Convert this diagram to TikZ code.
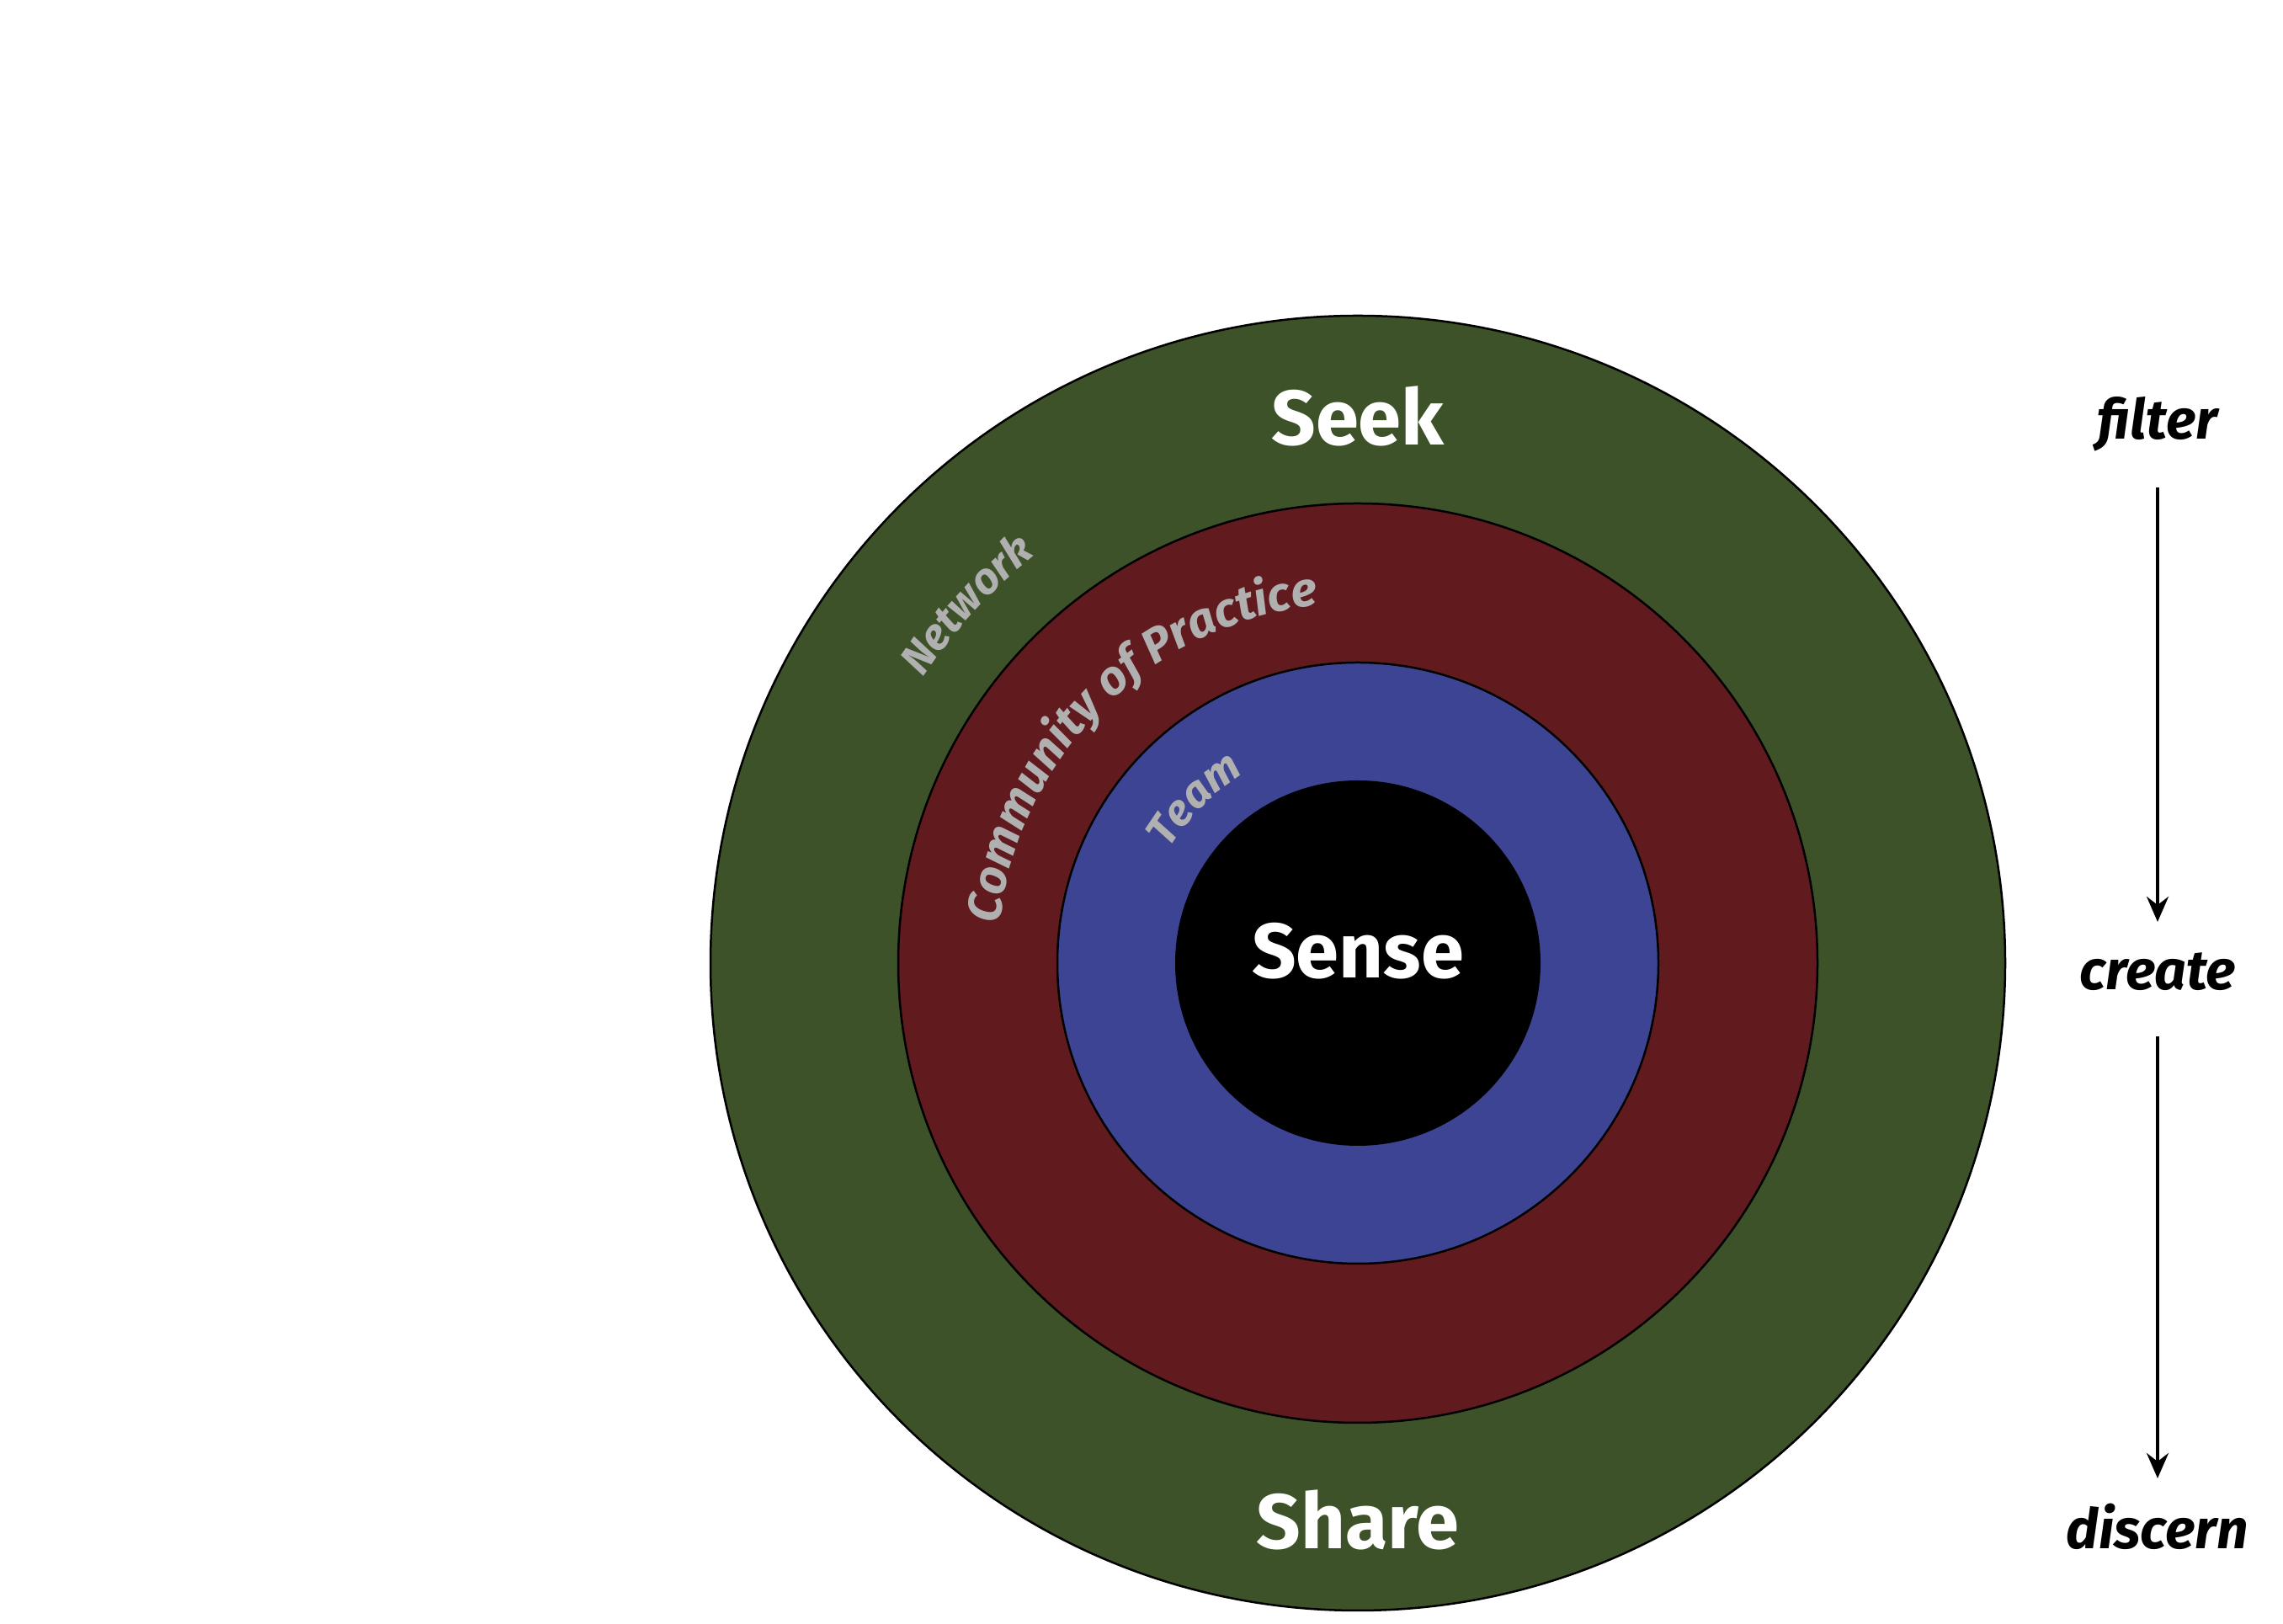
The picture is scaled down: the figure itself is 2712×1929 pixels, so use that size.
\documentclass[tikz,border=0pt]{standalone}
\usepackage{fontspec}
\setmainfont{Fira Sans}
\usetikzlibrary{decorations.text,arrows.meta}
\definecolor{netg}{HTML}{3D5229}
\definecolor{copr}{HTML}{611B1F}
\definecolor{teamb}{HTML}{3D4494}
\definecolor{lbl}{HTML}{B0B0B0}
\begin{document}
\begin{tikzpicture}[x=1pt,y=1pt,
  ring/.style={draw=black,line width=2.5pt},
  big/.style={text=white,font=\fontsize{92}{100}\selectfont\bfseries},
  side/.style={font=\fontsize{66}{72}\selectfont\bfseries\itshape},
  flow/.style={line width=4pt,-{Stealth[length=30pt,width=26pt,inset=10pt]}},
  arclbl/.style 2 args={decorate,decoration={text along path,text align=center,
     text={|\fontsize{#2}{#2}\selectfont\bfseries\itshape\color{lbl}|#1}}}]
\useasboundingbox (0,0) rectangle (2712,1929);
\coordinate (c) at (1613,785);
\node[ring,circle,fill=netg,minimum size=1538pt,inner sep=0] (net) at (c) {};
\node[ring,circle,fill=copr,minimum size=1092pt,inner sep=0] (cop) at (c) {};
\node[ring,circle,fill=teamb,minimum size=714pt,inner sep=0] (team) at (c) {};
\node[circle,fill=black,minimum size=434pt,inner sep=0] (core) at (c) {};
\node[big] (sense) at (1613,799) {Sense};
\node[big] (seek) at (1613,1435) {Seek};
\node[big] (share) at (1613,124) {Share};
\path[arclbl={Network}{52}] (c) ++(170:618) arc[start angle=170,end angle=105,radius=618];
\path[arclbl={Community of Practice}{57}] (c) ++(195:428) arc[start angle=195,end angle=75,radius=428];
\path[arclbl={Team}{52}] (c) ++(170:262) arc[start angle=170,end angle=100,radius=262];
\node[side] (filter) at (2563,1425) {filter};
\node[side] (create) at (2563,775) {create};
\node[side] (discern) at (2563,116) {discern};
\coordinate (a1) at (2563,1350);
\coordinate (a2) at (2563,834);
\coordinate (b1) at (2563,698);
\coordinate (b2) at (2563,173);
\draw[flow] (a1) -- (a2);
\draw[flow] (b1) -- (b2);
\end{tikzpicture}
\end{document}
